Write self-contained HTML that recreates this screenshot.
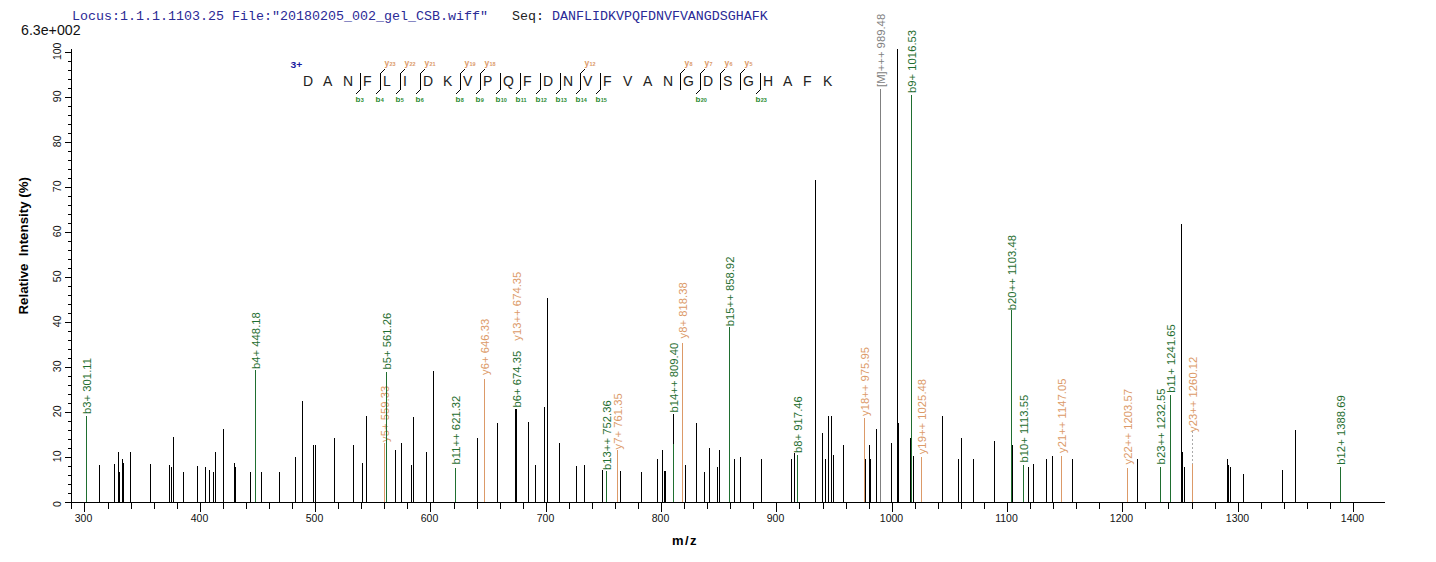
<!DOCTYPE html><html><head><meta charset="utf-8"><style>html,body{margin:0;padding:0;background:#fff;width:1436px;height:562px;overflow:hidden;position:relative}</style></head><body><svg width="1436" height="562" viewBox="0 0 1436 562" style="position:absolute;left:0;top:0">
<rect x="0" y="0" width="1436" height="562" fill="#fff"/>
<text x="72" y="20" font-family="Liberation Mono, monospace" font-size="13.33" fill="#2a2a96" xml:space="preserve">Locus:1.1.1.1103.25 File:"20180205_002_gel_CSB.wiff"   <tspan fill="#222">Seq:</tspan> DANFLIDKVPQFDNVFVANGDSGHAFK</text>
<text x="21" y="35" font-family="Liberation Sans, sans-serif" font-size="14.2" fill="#111">6.3e+002</text>
<g fill="#000">
<rect x="71" y="49" width="1" height="460"/>
<rect x="65" y="502" width="1320" height="1"/>
<rect x="68" y="493" width="3" height="1"/>
<rect x="68" y="484" width="3" height="1"/>
<rect x="68" y="475" width="3" height="1"/>
<rect x="68" y="466" width="3" height="1"/>
<rect x="65" y="457" width="6" height="1"/>
<rect x="68" y="448" width="3" height="1"/>
<rect x="68" y="439" width="3" height="1"/>
<rect x="68" y="430" width="3" height="1"/>
<rect x="68" y="421" width="3" height="1"/>
<rect x="65" y="412" width="6" height="1"/>
<rect x="68" y="403" width="3" height="1"/>
<rect x="68" y="394" width="3" height="1"/>
<rect x="68" y="385" width="3" height="1"/>
<rect x="68" y="376" width="3" height="1"/>
<rect x="65" y="367" width="6" height="1"/>
<rect x="68" y="358" width="3" height="1"/>
<rect x="68" y="349" width="3" height="1"/>
<rect x="68" y="340" width="3" height="1"/>
<rect x="68" y="331" width="3" height="1"/>
<rect x="65" y="322" width="6" height="1"/>
<rect x="68" y="313" width="3" height="1"/>
<rect x="68" y="304" width="3" height="1"/>
<rect x="68" y="295" width="3" height="1"/>
<rect x="68" y="286" width="3" height="1"/>
<rect x="65" y="277" width="6" height="1"/>
<rect x="68" y="268" width="3" height="1"/>
<rect x="68" y="259" width="3" height="1"/>
<rect x="68" y="250" width="3" height="1"/>
<rect x="68" y="241" width="3" height="1"/>
<rect x="65" y="232" width="6" height="1"/>
<rect x="68" y="223" width="3" height="1"/>
<rect x="68" y="214" width="3" height="1"/>
<rect x="68" y="205" width="3" height="1"/>
<rect x="68" y="196" width="3" height="1"/>
<rect x="65" y="187" width="6" height="1"/>
<rect x="68" y="178" width="3" height="1"/>
<rect x="68" y="169" width="3" height="1"/>
<rect x="68" y="160" width="3" height="1"/>
<rect x="68" y="151" width="3" height="1"/>
<rect x="65" y="142" width="6" height="1"/>
<rect x="68" y="133" width="3" height="1"/>
<rect x="68" y="124" width="3" height="1"/>
<rect x="68" y="115" width="3" height="1"/>
<rect x="68" y="106" width="3" height="1"/>
<rect x="65" y="97" width="6" height="1"/>
<rect x="68" y="88" width="3" height="1"/>
<rect x="68" y="79" width="3" height="1"/>
<rect x="68" y="70" width="3" height="1"/>
<rect x="68" y="61" width="3" height="1"/>
<rect x="65" y="52" width="6" height="1"/>
<rect x="84" y="503" width="1" height="9"/>
<rect x="108" y="503" width="1" height="6"/>
<rect x="131" y="503" width="1" height="6"/>
<rect x="154" y="503" width="1" height="6"/>
<rect x="177" y="503" width="1" height="6"/>
<rect x="200" y="503" width="1" height="9"/>
<rect x="223" y="503" width="1" height="6"/>
<rect x="246" y="503" width="1" height="6"/>
<rect x="269" y="503" width="1" height="6"/>
<rect x="292" y="503" width="1" height="6"/>
<rect x="315" y="503" width="1" height="9"/>
<rect x="338" y="503" width="1" height="6"/>
<rect x="361" y="503" width="1" height="6"/>
<rect x="384" y="503" width="1" height="6"/>
<rect x="407" y="503" width="1" height="6"/>
<rect x="430" y="503" width="1" height="9"/>
<rect x="454" y="503" width="1" height="6"/>
<rect x="477" y="503" width="1" height="6"/>
<rect x="500" y="503" width="1" height="6"/>
<rect x="523" y="503" width="1" height="6"/>
<rect x="546" y="503" width="1" height="9"/>
<rect x="569" y="503" width="1" height="6"/>
<rect x="592" y="503" width="1" height="6"/>
<rect x="615" y="503" width="1" height="6"/>
<rect x="638" y="503" width="1" height="6"/>
<rect x="661" y="503" width="1" height="9"/>
<rect x="684" y="503" width="1" height="6"/>
<rect x="707" y="503" width="1" height="6"/>
<rect x="730" y="503" width="1" height="6"/>
<rect x="753" y="503" width="1" height="6"/>
<rect x="776" y="503" width="1" height="9"/>
<rect x="799" y="503" width="1" height="6"/>
<rect x="823" y="503" width="1" height="6"/>
<rect x="846" y="503" width="1" height="6"/>
<rect x="869" y="503" width="1" height="6"/>
<rect x="892" y="503" width="1" height="9"/>
<rect x="915" y="503" width="1" height="6"/>
<rect x="938" y="503" width="1" height="6"/>
<rect x="961" y="503" width="1" height="6"/>
<rect x="984" y="503" width="1" height="6"/>
<rect x="1007" y="503" width="1" height="9"/>
<rect x="1030" y="503" width="1" height="6"/>
<rect x="1053" y="503" width="1" height="6"/>
<rect x="1076" y="503" width="1" height="6"/>
<rect x="1099" y="503" width="1" height="6"/>
<rect x="1122" y="503" width="1" height="9"/>
<rect x="1145" y="503" width="1" height="6"/>
<rect x="1168" y="503" width="1" height="6"/>
<rect x="1192" y="503" width="1" height="6"/>
<rect x="1215" y="503" width="1" height="6"/>
<rect x="1238" y="503" width="1" height="9"/>
<rect x="1261" y="503" width="1" height="6"/>
<rect x="1284" y="503" width="1" height="6"/>
<rect x="1307" y="503" width="1" height="6"/>
<rect x="1330" y="503" width="1" height="6"/>
<rect x="1353" y="503" width="1" height="9"/>
</g>
<g font-family="Liberation Sans, sans-serif" font-size="10.5" fill="#111" text-anchor="middle">
<text x="83.5" y="522">300</text>
<text x="199.5" y="522">400</text>
<text x="314.5" y="522">500</text>
<text x="429.5" y="522">600</text>
<text x="545.5" y="522">700</text>
<text x="660.5" y="522">800</text>
<text x="775.5" y="522">900</text>
<text x="891.5" y="522">1000</text>
<text x="1006.5" y="522">1100</text>
<text x="1121.5" y="522">1200</text>
<text x="1237.5" y="522">1300</text>
<text x="1352.5" y="522">1400</text>
<text transform="translate(60.8,504.0) rotate(-90)" x="0" y="0">0</text>
<text transform="translate(60.8,456.3) rotate(-90)" x="0" y="0">10</text>
<text transform="translate(60.8,411.3) rotate(-90)" x="0" y="0">20</text>
<text transform="translate(60.8,366.3) rotate(-90)" x="0" y="0">30</text>
<text transform="translate(60.8,321.3) rotate(-90)" x="0" y="0">40</text>
<text transform="translate(60.8,276.3) rotate(-90)" x="0" y="0">50</text>
<text transform="translate(60.8,231.3) rotate(-90)" x="0" y="0">60</text>
<text transform="translate(60.8,186.3) rotate(-90)" x="0" y="0">70</text>
<text transform="translate(60.8,141.3) rotate(-90)" x="0" y="0">80</text>
<text transform="translate(60.8,96.3) rotate(-90)" x="0" y="0">90</text>
<text transform="translate(60.8,51.3) rotate(-90)" x="0" y="0">100</text>
</g>
<text x="685" y="545" font-family="Liberation Sans, sans-serif" font-size="13" font-weight="bold" fill="#000" text-anchor="middle" letter-spacing="1.5">m/z</text>
<text transform="translate(28.4,245.8) rotate(-90)" font-family="Liberation Sans, sans-serif" font-size="13.3" font-weight="bold" fill="#000" text-anchor="middle" xml:space="preserve">Relative  Intensity (%)</text>
<g font-family="Liberation Sans, sans-serif" font-size="11.3">
<text transform="translate(90.5,414) rotate(-90)" fill="#1f6e30">b3+ 301.11</text>
<text transform="translate(259.5,369) rotate(-90)" fill="#1f6e30">b4+ 448.18</text>
<text transform="translate(388.5,442) rotate(-90)" fill="#dc9a68">y5+ 559.33</text>
<text transform="translate(390.5,369.5) rotate(-90)" fill="#1f6e30">b5+ 561.26</text>
<text transform="translate(459.5,464.5) rotate(-90)" fill="#1f6e30">b11++ 621.32</text>
<text transform="translate(488.5,375) rotate(-90)" fill="#dc9a68">y6+ 646.33</text>
<text transform="translate(610.5,470) rotate(-90)" fill="#1f6e30">b13++ 752.36</text>
<text transform="translate(621.5,449.5) rotate(-90)" fill="#dc9a68">y7+ 761.35</text>
<text transform="translate(677.5,412.5) rotate(-90)" fill="#1f6e30">b14++ 809.40</text>
<text transform="translate(686.5,338.5) rotate(-90)" fill="#dc9a68">y8+ 818.38</text>
<text transform="translate(733.5,326.3) rotate(-90)" fill="#1f6e30">b15++ 858.92</text>
<text transform="translate(801.5,453) rotate(-90)" fill="#1f6e30">b8+ 917.46</text>
<text transform="translate(868.5,416) rotate(-90)" fill="#dc9a68">y18++ 975.95</text>
<text transform="translate(884.5,87) rotate(-90)" fill="#808080">[M]+++ 989.48</text>
<text transform="translate(915.5,93) rotate(-90)" fill="#1f6e30">b9+ 1016.53</text>
<text transform="translate(925.5,454.3) rotate(-90)" fill="#dc9a68">y19++ 1025.48</text>
<text transform="translate(1015.5,310.2) rotate(-90)" fill="#1f6e30">b20++ 1103.48</text>
<text transform="translate(1027.5,462.5) rotate(-90)" fill="#1f6e30">b10+ 1113.55</text>
<text transform="translate(1065.5,453) rotate(-90)" fill="#dc9a68">y21++ 1147.05</text>
<text transform="translate(1131.5,464.4) rotate(-90)" fill="#dc9a68">y22++ 1203.57</text>
<text transform="translate(1164.5,464.4) rotate(-90)" fill="#1f6e30">b23++ 1232.55</text>
<text transform="translate(1174.5,392.7) rotate(-90)" fill="#1f6e30">b11+ 1241.65</text>
<text transform="translate(1196.5,432) rotate(-90)" fill="#dc9a68">y23++ 1260.12</text>
<text transform="translate(1344.5,464.7) rotate(-90)" fill="#1f6e30">b12+ 1388.69</text>
<text transform="translate(520.5,407.6) rotate(-90)" fill="#1f6e30">b6+ 674.35</text>
<text transform="translate(520.5,340.7) rotate(-90)" fill="#dc9a68">y13++ 674.35</text>
</g>
<g fill="#000">
<rect x="99" y="465" width="1" height="37"/>
<rect x="114" y="464" width="1" height="38"/>
<rect x="118" y="452" width="1" height="50"/>
<rect x="119" y="472" width="1" height="30"/>
<rect x="122" y="459" width="1" height="43"/>
<rect x="123" y="463" width="1" height="39"/>
<rect x="130" y="452" width="1" height="50"/>
<rect x="150" y="464" width="1" height="38"/>
<rect x="169" y="465" width="1" height="37"/>
<rect x="171" y="467" width="1" height="35"/>
<rect x="173" y="437" width="1" height="65"/>
<rect x="183" y="472" width="1" height="30"/>
<rect x="197" y="466" width="1" height="36"/>
<rect x="205" y="467" width="1" height="35"/>
<rect x="209" y="470" width="1" height="32"/>
<rect x="213" y="472" width="1" height="30"/>
<rect x="215" y="452" width="1" height="50"/>
<rect x="223" y="429" width="1" height="73"/>
<rect x="234" y="463" width="1" height="39"/>
<rect x="235" y="467" width="1" height="35"/>
<rect x="250" y="472" width="1" height="30"/>
<rect x="261" y="472" width="1" height="30"/>
<rect x="279" y="472" width="1" height="30"/>
<rect x="295" y="457" width="1" height="45"/>
<rect x="302" y="401" width="1" height="101"/>
<rect x="313" y="445" width="1" height="57"/>
<rect x="315" y="445" width="1" height="57"/>
<rect x="334" y="438" width="1" height="64"/>
<rect x="353" y="445" width="1" height="57"/>
<rect x="362" y="463" width="1" height="39"/>
<rect x="366" y="416" width="1" height="86"/>
<rect x="395" y="450" width="1" height="52"/>
<rect x="401" y="443" width="1" height="59"/>
<rect x="411" y="465" width="1" height="37"/>
<rect x="413" y="417" width="1" height="85"/>
<rect x="426" y="452" width="1" height="50"/>
<rect x="433" y="371" width="1" height="131"/>
<rect x="477" y="438" width="1" height="64"/>
<rect x="497" y="423" width="1" height="79"/>
<rect x="528" y="422" width="1" height="80"/>
<rect x="535" y="465" width="1" height="37"/>
<rect x="544" y="407" width="1" height="95"/>
<rect x="547" y="298" width="1" height="204"/>
<rect x="559" y="443" width="1" height="59"/>
<rect x="576" y="466" width="1" height="36"/>
<rect x="584" y="465" width="1" height="37"/>
<rect x="602" y="470" width="1" height="32"/>
<rect x="620" y="471" width="1" height="31"/>
<rect x="641" y="472" width="1" height="30"/>
<rect x="657" y="459" width="1" height="43"/>
<rect x="662" y="450" width="1" height="52"/>
<rect x="664" y="471" width="1" height="31"/>
<rect x="665" y="471" width="1" height="31"/>
<rect x="673" y="414" width="1" height="88"/>
<rect x="685" y="465" width="1" height="37"/>
<rect x="696" y="423" width="1" height="79"/>
<rect x="704" y="472" width="1" height="30"/>
<rect x="709" y="448" width="1" height="54"/>
<rect x="717" y="467" width="1" height="35"/>
<rect x="719" y="450" width="1" height="52"/>
<rect x="734" y="459" width="1" height="43"/>
<rect x="740" y="457" width="1" height="45"/>
<rect x="761" y="459" width="1" height="43"/>
<rect x="791" y="459" width="1" height="43"/>
<rect x="794" y="453" width="1" height="49"/>
<rect x="815" y="180" width="1" height="322"/>
<rect x="822" y="433" width="1" height="69"/>
<rect x="825" y="459" width="1" height="43"/>
<rect x="828" y="416" width="1" height="86"/>
<rect x="831" y="416" width="1" height="86"/>
<rect x="833" y="455" width="1" height="47"/>
<rect x="843" y="445" width="1" height="57"/>
<rect x="865" y="459" width="1" height="43"/>
<rect x="869" y="445" width="1" height="57"/>
<rect x="870" y="459" width="1" height="43"/>
<rect x="876" y="429" width="1" height="73"/>
<rect x="891" y="443" width="1" height="59"/>
<rect x="897" y="49" width="1" height="453"/>
<rect x="898" y="423" width="1" height="79"/>
<rect x="910" y="438" width="1" height="64"/>
<rect x="913" y="456" width="1" height="46"/>
<rect x="942" y="416" width="1" height="86"/>
<rect x="958" y="459" width="1" height="43"/>
<rect x="961" y="438" width="1" height="64"/>
<rect x="973" y="459" width="1" height="43"/>
<rect x="994" y="441" width="1" height="61"/>
<rect x="1012" y="445" width="1" height="57"/>
<rect x="1028" y="467" width="1" height="35"/>
<rect x="1033" y="464" width="1" height="38"/>
<rect x="1046" y="459" width="1" height="43"/>
<rect x="1052" y="456" width="1" height="46"/>
<rect x="1072" y="459" width="1" height="43"/>
<rect x="1137" y="459" width="1" height="43"/>
<rect x="1181" y="224" width="1" height="278"/>
<rect x="1182" y="452" width="1" height="50"/>
<rect x="1184" y="467" width="1" height="35"/>
<rect x="1227" y="459" width="1" height="43"/>
<rect x="1228" y="465" width="1" height="37"/>
<rect x="1230" y="467" width="1" height="35"/>
<rect x="1243" y="474" width="1" height="28"/>
<rect x="1282" y="470" width="1" height="32"/>
<rect x="1295" y="430" width="1" height="72"/>
<rect x="515" y="409" width="2" height="93"/>
</g>
<rect x="86" y="416" width="1" height="86" fill="#1f6e30"/>
<rect x="255" y="370" width="1" height="132" fill="#1f6e30"/>
<rect x="384" y="443" width="1" height="59" fill="#dc9a68"/>
<rect x="386" y="372" width="1" height="130" fill="#1f6e30"/>
<rect x="455" y="468" width="1" height="34" fill="#1f6e30"/>
<rect x="484" y="379" width="1" height="123" fill="#dc9a68"/>
<rect x="606" y="471" width="1" height="31" fill="#1f6e30"/>
<rect x="617" y="450" width="1" height="52" fill="#dc9a68"/>
<rect x="673" y="444" width="1" height="58" fill="#1f6e30"/>
<rect x="682" y="343" width="1" height="159" fill="#dc9a68"/>
<rect x="729" y="327" width="1" height="175" fill="#1f6e30"/>
<rect x="797" y="455" width="1" height="47" fill="#1f6e30"/>
<rect x="864" y="418" width="1" height="84" fill="#dc9a68"/>
<rect x="880" y="89" width="1" height="413" fill="#808080"/>
<rect x="911" y="95" width="1" height="407" fill="#1f6e30"/>
<rect x="921" y="457" width="1" height="45" fill="#dc9a68"/>
<rect x="1011" y="310" width="1" height="192" fill="#1f6e30"/>
<rect x="1023" y="465" width="1" height="37" fill="#1f6e30"/>
<rect x="1061" y="456" width="1" height="46" fill="#dc9a68"/>
<rect x="1127" y="468" width="1" height="34" fill="#dc9a68"/>
<rect x="1160" y="467" width="1" height="35" fill="#1f6e30"/>
<rect x="1170" y="395" width="1" height="107" fill="#1f6e30"/>
<rect x="1192" y="464" width="1" height="38" fill="#dc9a68"/>
<line x1="1192.5" y1="431" x2="1192.5" y2="464" stroke="#aaa" stroke-width="1" stroke-dasharray="2,2"/>
<rect x="1340" y="467" width="1" height="35" fill="#1f6e30"/>
<text transform="translate(290.5,68) scale(1.15,1)" font-family="Liberation Sans, sans-serif" font-size="9" font-weight="bold" fill="#1a1aa0">3+</text>
<g font-family="Liberation Sans, sans-serif" font-size="14" fill="#222">
<text x="303" y="86">D</text>
<text x="323" y="86">A</text>
<text x="343" y="86">N</text>
<text x="363" y="86">F</text>
<text x="383" y="86">L</text>
<text x="403" y="86">I</text>
<text x="423" y="86">D</text>
<text x="443" y="86">K</text>
<text x="463" y="86">V</text>
<text x="483" y="86">P</text>
<text x="503" y="86">Q</text>
<text x="523" y="86">F</text>
<text x="543" y="86">D</text>
<text x="563" y="86">N</text>
<text x="583" y="86">V</text>
<text x="603" y="86">F</text>
<text x="623" y="86">V</text>
<text x="643" y="86">A</text>
<text x="663" y="86">N</text>
<text x="683" y="86">G</text>
<text x="703" y="86">D</text>
<text x="723" y="86">S</text>
<text x="743" y="86">G</text>
<text x="763" y="86">H</text>
<text x="783" y="86">A</text>
<text x="803" y="86">F</text>
<text x="823" y="86">K</text>
</g>
<g fill="#000">
<rect x="360" y="73" width="1" height="17"/>
<rect x="359" y="90" width="1" height="1"/>
<rect x="358" y="91" width="1" height="1"/>
<rect x="357" y="92" width="1" height="1"/>
<rect x="356" y="93" width="1" height="1"/>
<rect x="380" y="73" width="1" height="17"/>
<rect x="379" y="90" width="1" height="1"/>
<rect x="378" y="91" width="1" height="1"/>
<rect x="377" y="92" width="1" height="1"/>
<rect x="376" y="93" width="1" height="1"/>
<rect x="381" y="72" width="1" height="1"/>
<rect x="382" y="71" width="1" height="1"/>
<rect x="383" y="70" width="1" height="1"/>
<rect x="384" y="69" width="1" height="1"/>
<rect x="400" y="73" width="1" height="17"/>
<rect x="399" y="90" width="1" height="1"/>
<rect x="398" y="91" width="1" height="1"/>
<rect x="397" y="92" width="1" height="1"/>
<rect x="396" y="93" width="1" height="1"/>
<rect x="401" y="72" width="1" height="1"/>
<rect x="402" y="71" width="1" height="1"/>
<rect x="403" y="70" width="1" height="1"/>
<rect x="404" y="69" width="1" height="1"/>
<rect x="420" y="73" width="1" height="17"/>
<rect x="419" y="90" width="1" height="1"/>
<rect x="418" y="91" width="1" height="1"/>
<rect x="417" y="92" width="1" height="1"/>
<rect x="416" y="93" width="1" height="1"/>
<rect x="421" y="72" width="1" height="1"/>
<rect x="422" y="71" width="1" height="1"/>
<rect x="423" y="70" width="1" height="1"/>
<rect x="424" y="69" width="1" height="1"/>
<rect x="460" y="73" width="1" height="17"/>
<rect x="459" y="90" width="1" height="1"/>
<rect x="458" y="91" width="1" height="1"/>
<rect x="457" y="92" width="1" height="1"/>
<rect x="456" y="93" width="1" height="1"/>
<rect x="461" y="72" width="1" height="1"/>
<rect x="462" y="71" width="1" height="1"/>
<rect x="463" y="70" width="1" height="1"/>
<rect x="464" y="69" width="1" height="1"/>
<rect x="480" y="73" width="1" height="17"/>
<rect x="479" y="90" width="1" height="1"/>
<rect x="478" y="91" width="1" height="1"/>
<rect x="477" y="92" width="1" height="1"/>
<rect x="476" y="93" width="1" height="1"/>
<rect x="481" y="72" width="1" height="1"/>
<rect x="482" y="71" width="1" height="1"/>
<rect x="483" y="70" width="1" height="1"/>
<rect x="484" y="69" width="1" height="1"/>
<rect x="500" y="73" width="1" height="17"/>
<rect x="499" y="90" width="1" height="1"/>
<rect x="498" y="91" width="1" height="1"/>
<rect x="497" y="92" width="1" height="1"/>
<rect x="496" y="93" width="1" height="1"/>
<rect x="520" y="73" width="1" height="17"/>
<rect x="519" y="90" width="1" height="1"/>
<rect x="518" y="91" width="1" height="1"/>
<rect x="517" y="92" width="1" height="1"/>
<rect x="516" y="93" width="1" height="1"/>
<rect x="540" y="73" width="1" height="17"/>
<rect x="539" y="90" width="1" height="1"/>
<rect x="538" y="91" width="1" height="1"/>
<rect x="537" y="92" width="1" height="1"/>
<rect x="536" y="93" width="1" height="1"/>
<rect x="560" y="73" width="1" height="17"/>
<rect x="559" y="90" width="1" height="1"/>
<rect x="558" y="91" width="1" height="1"/>
<rect x="557" y="92" width="1" height="1"/>
<rect x="556" y="93" width="1" height="1"/>
<rect x="580" y="73" width="1" height="17"/>
<rect x="579" y="90" width="1" height="1"/>
<rect x="578" y="91" width="1" height="1"/>
<rect x="577" y="92" width="1" height="1"/>
<rect x="576" y="93" width="1" height="1"/>
<rect x="581" y="72" width="1" height="1"/>
<rect x="582" y="71" width="1" height="1"/>
<rect x="583" y="70" width="1" height="1"/>
<rect x="584" y="69" width="1" height="1"/>
<rect x="600" y="73" width="1" height="17"/>
<rect x="599" y="90" width="1" height="1"/>
<rect x="598" y="91" width="1" height="1"/>
<rect x="597" y="92" width="1" height="1"/>
<rect x="596" y="93" width="1" height="1"/>
<rect x="680" y="73" width="1" height="17"/>
<rect x="681" y="72" width="1" height="1"/>
<rect x="682" y="71" width="1" height="1"/>
<rect x="683" y="70" width="1" height="1"/>
<rect x="684" y="69" width="1" height="1"/>
<rect x="700" y="73" width="1" height="17"/>
<rect x="699" y="90" width="1" height="1"/>
<rect x="698" y="91" width="1" height="1"/>
<rect x="697" y="92" width="1" height="1"/>
<rect x="696" y="93" width="1" height="1"/>
<rect x="701" y="72" width="1" height="1"/>
<rect x="702" y="71" width="1" height="1"/>
<rect x="703" y="70" width="1" height="1"/>
<rect x="704" y="69" width="1" height="1"/>
<rect x="720" y="73" width="1" height="17"/>
<rect x="721" y="72" width="1" height="1"/>
<rect x="722" y="71" width="1" height="1"/>
<rect x="723" y="70" width="1" height="1"/>
<rect x="724" y="69" width="1" height="1"/>
<rect x="740" y="73" width="1" height="17"/>
<rect x="741" y="72" width="1" height="1"/>
<rect x="742" y="71" width="1" height="1"/>
<rect x="743" y="70" width="1" height="1"/>
<rect x="744" y="69" width="1" height="1"/>
<rect x="760" y="73" width="1" height="17"/>
<rect x="759" y="90" width="1" height="1"/>
<rect x="758" y="91" width="1" height="1"/>
<rect x="757" y="92" width="1" height="1"/>
<rect x="756" y="93" width="1" height="1"/>
</g>
<g font-family="Liberation Sans, sans-serif" font-weight="bold">
<text x="355.5" y="102" fill="#2a8a30" font-size="8">b<tspan font-size="5.5" dx="0.3">3</tspan></text>
<text x="375.5" y="102" fill="#2a8a30" font-size="8">b<tspan font-size="5.5" dx="0.3">4</tspan></text>
<text x="384.5" y="65.5" fill="#dc9a68" font-size="8.5">y<tspan font-size="5.5" dx="0.3">23</tspan></text>
<text x="395.5" y="102" fill="#2a8a30" font-size="8">b<tspan font-size="5.5" dx="0.3">5</tspan></text>
<text x="404.5" y="65.5" fill="#dc9a68" font-size="8.5">y<tspan font-size="5.5" dx="0.3">22</tspan></text>
<text x="415.5" y="102" fill="#2a8a30" font-size="8">b<tspan font-size="5.5" dx="0.3">6</tspan></text>
<text x="424.5" y="65.5" fill="#dc9a68" font-size="8.5">y<tspan font-size="5.5" dx="0.3">21</tspan></text>
<text x="455.5" y="102" fill="#2a8a30" font-size="8">b<tspan font-size="5.5" dx="0.3">8</tspan></text>
<text x="464.5" y="65.5" fill="#dc9a68" font-size="8.5">y<tspan font-size="5.5" dx="0.3">19</tspan></text>
<text x="475.5" y="102" fill="#2a8a30" font-size="8">b<tspan font-size="5.5" dx="0.3">9</tspan></text>
<text x="484.5" y="65.5" fill="#dc9a68" font-size="8.5">y<tspan font-size="5.5" dx="0.3">18</tspan></text>
<text x="495.5" y="102" fill="#2a8a30" font-size="8">b<tspan font-size="5.5" dx="0.3">10</tspan></text>
<text x="515.5" y="102" fill="#2a8a30" font-size="8">b<tspan font-size="5.5" dx="0.3">11</tspan></text>
<text x="535.5" y="102" fill="#2a8a30" font-size="8">b<tspan font-size="5.5" dx="0.3">12</tspan></text>
<text x="555.5" y="102" fill="#2a8a30" font-size="8">b<tspan font-size="5.5" dx="0.3">13</tspan></text>
<text x="575.5" y="102" fill="#2a8a30" font-size="8">b<tspan font-size="5.5" dx="0.3">14</tspan></text>
<text x="584.5" y="65.5" fill="#dc9a68" font-size="8.5">y<tspan font-size="5.5" dx="0.3">12</tspan></text>
<text x="595.5" y="102" fill="#2a8a30" font-size="8">b<tspan font-size="5.5" dx="0.3">15</tspan></text>
<text x="684.5" y="65.5" fill="#dc9a68" font-size="8.5">y<tspan font-size="5.5" dx="0.3">8</tspan></text>
<text x="695.5" y="102" fill="#2a8a30" font-size="8">b<tspan font-size="5.5" dx="0.3">20</tspan></text>
<text x="704.5" y="65.5" fill="#dc9a68" font-size="8.5">y<tspan font-size="5.5" dx="0.3">7</tspan></text>
<text x="724.5" y="65.5" fill="#dc9a68" font-size="8.5">y<tspan font-size="5.5" dx="0.3">6</tspan></text>
<text x="744.5" y="65.5" fill="#dc9a68" font-size="8.5">y<tspan font-size="5.5" dx="0.3">5</tspan></text>
<text x="755.5" y="102" fill="#2a8a30" font-size="8">b<tspan font-size="5.5" dx="0.3">23</tspan></text>
</g>
</svg></body></html>
